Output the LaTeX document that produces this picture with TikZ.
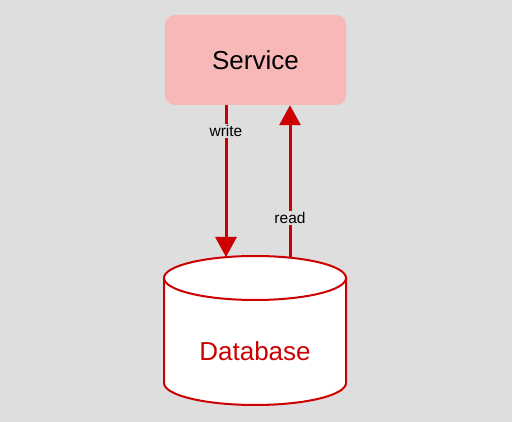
\documentclass[tikz,border=0pt]{standalone}
\usepackage{fontspec}
\setmainfont{Liberation Sans}
\usetikzlibrary{arrows.meta}
\definecolor{bgc}{HTML}{DEDEDE}
\definecolor{svcfill}{HTML}{F8B8B8}
\definecolor{dbred}{HTML}{CC0000}
\tikzset{
  svcbox/.style={fill=svcfill, rounded corners=10pt, minimum width=181pt, minimum height=90pt, inner sep=0pt, font=\fontsize{26}{30}\selectfont},
  dbline/.style={draw=dbred, line width=2pt},
  flow/.style={draw=dbred, line width=3pt, -{Triangle[width=21pt,length=20pt]}},
  lbl/.style={fill=bgc, inner sep=1.5pt, font=\fontsize{15.5}{18}\selectfont},
}
\begin{document}
\begin{tikzpicture}[x=1pt,y=-1pt]
\fill[bgc] (0,0) rectangle (512,422);
\useasboundingbox (0,0) rectangle (512,422);
\node[svcbox] (svc) at (255.5,60) {Service};
% cylinder
\filldraw[dbline, fill=white] (164,278) -- (164,383) arc[start angle=180, end angle=360, x radius=91pt, y radius=22pt] -- (346,278) arc[start angle=0, end angle=180, x radius=91pt, y radius=22pt] -- cycle;
\draw[dbline] (164,278) arc[start angle=180, end angle=360, x radius=91pt, y radius=22pt];
\node[text=dbred, font=\fontsize{26}{30}\selectfont] (db) at (255,351) {Database};
\coordinate (wend) at (226,257);
\coordinate (rstart) at (290,258);
\draw[flow] (svc.south -| wend) -- (wend) node[lbl, pos=0.17] (wl) {write};
\draw[flow] (rstart) -- (svc.south -| rstart) node[lbl, pos=0.26] (rl) {read};
\end{tikzpicture}
\end{document}
